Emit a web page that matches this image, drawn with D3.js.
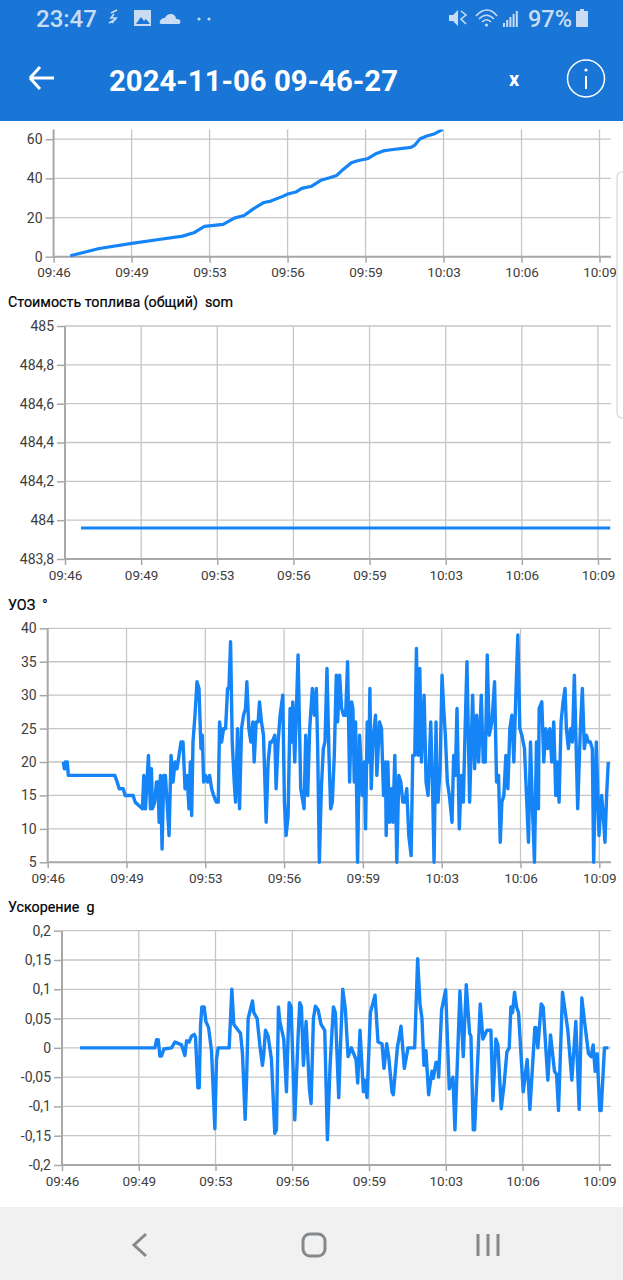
<!DOCTYPE html>
<html><head><meta charset="utf-8">
<script src="https://cdn.jsdelivr.net/npm/d3@7/dist/d3.min.js"></script>
<style>
html,body{margin:0;padding:0;background:#fff;width:623px;height:1280px;overflow:hidden}
svg{display:block}
text{font-family:Roboto,sans-serif}
</style></head><body><svg id="c" width="623" height="1280"></svg>
<script>
const tickLabels = ["09:46","09:49","09:53","09:56","09:59","10:03","10:06","10:09"];
const screenTitle = "2024-11-06 09-46-27";

const fuelTime = [42,115,197,265,325,355,380,427,455,480,502,530,547,577,590,610,625,650,673,695,713,730,750,765,790,810,830,850,900,910,923,940,960,980];
const fuelValue = [0.5,4.2,6.8,8.8,10.5,12.4,15.5,16.5,19.7,21,24.3,27.7,28.4,30.8,32,33,34.9,36,39,40.3,41.5,44.7,48,49,50,52.4,54,54.6,55.8,57,60.2,61.6,62.8,65];
const fuelTicks = [0,20,40,60];

const costTime = [21,716];
const costValue = [483.96,483.96];
const costTicks = [483.8,484,484.2,484.4,484.6,484.8,485];

const uozTime = [47,50,53,56,59,62,65,202,209,215,227,233,257,263,285,289,294,303,309,312,315,322,327,332,335,339,344,349,354,359,365,371,377,383,389,395,401,407,413,419,425,429,433,437,443,449,455,461,465,469,475,481,487,493,499,507,513,517,523,529,535,541,545,550,555,561,565,571,577,583,589,595,599,605,611,617,621,627,633,637,643,649,657,663,669,675,683,687,693,699,707,712,717,723,729,735,737,743,753,761,771,776,782,788,796,802,808,812,817,823,829,834,840,846,851,856,862,868,872,878,884,890,896,902,908,914,918,922,926,932,938,942,946,952,956,961,966,969,973,978,986,990,998,1004,1010,1016,1018,1023,1028,1034,1038,1044,1050,1056,1062,1068,1074,1080,1086,1093,1098,1104,1109,1114,1119,1124,1132,1138,1144,1152,1158,1162,1168,1171,1174,1180,1186,1191,1196,1202,1208,1216,1221,1226,1231,1238,1244,1250,1256,1261,1269,1278,1284,1290,1296,1304,1310,1316,1322,1328,1336,1344,1350,1356,1361,1366,1372,1378,1384,1390,1396,1402,1408,1414,1420,1426,1434,1440,1446,1452,1458,1464,1470,1476,1478,1486,1492,1498,1504,1510,1516,1522,1528,1532,1538,1544,1550,1556,1560,1566,1572,1578,1584,1594,1602,1608,1614,1620,1626,1632,1638,1642,1650,1658,1666,1671,1676,1681,1686];
const uozValue = [20,19,20,19,20,18,18,18,17,16,16,15,15,14,13,18,13,21,13,19,13,14,17,17,11,18,7,18,18,14,9,21,17,20,19,21,23,23,16,18,13,20,12,23,27,32,31,22,24,17,18,17,18,16,15,14,14,26,23,25,25,31,31,38,23,17,14,25,13,25,27,28,32,25,23,26,20,26,26,29,26,24,11,20,23,23,24,16,23,27,30,14,9,12,28,23,29,20,36,16,13,24,15,25,31,27,31,22,5,16,22,23,34,21,13,14,21,33,26,33,28,27,27,35,17,29,28,17,26,5,24,20,15,20,10,26,20,31,16,23,27,18,26,25,15,20,9,20,11,16,11,21,5,18,17,14,14,16,9,6,21,21,37,21,34,20,30,17,15,26,15,5,26,14,14,19,33,28,24,17,15,11,21,18,28,10,18,14,26,35,14,30,19,27,20,30,20,20,36,24,26,32,17,18,8,14,15,21,16,25,27,20,30,39,25,24,22,15,8,23,13,5,23,13,28,29,20,25,22,25,20,26,15,20,14,26,29,31,25,22,25,23,33,13,25,31,22,24,23,23,22,5,23,9,15,12,8,15,20];
const uozTicks = [5,10,15,20,25,30,35,40];

const accTime = [54,279,284,289,294,299,306,329,339,347,359,369,374,382,389,397,401,408,412,416,420,427,432,440,449,459,464,469,502,510,516,529,536,542,550,554,559,572,576,586,594,602,606,611,619,629,639,644,650,654,666,674,682,688,699,709,714,719,725,733,743,748,755,761,769,778,789,797,805,815,821,831,836,843,851,859,869,883,888,895,905,909,916,926,940,949,961,967,975,981,991,995,1007,1018,1028,1039,1059,1068,1075,1081,1087,1093,1101,1111,1115,1123,1128,1131,1140,1152,1163,1169,1174,1180,1195,1205,1214,1224,1228,1235,1239,1256,1264,1276,1288,1294,1303,1309,1319,1328,1336,1343,1348,1353,1359,1365,1371,1385,1397,1405,1411,1420,1423,1429,1439,1445,1459,1467,1479,1485,1491,1503,1519,1531,1543,1553,1561,1568,1581,1589,1595,1601,1607,1615,1619,1629,1641];
const accValue = [0,0,.014,.014,-.014,-.014,-.002,0,.01,.008,.005,-.013,.012,.01,.02,.023,.018,-.068,-.068,.038,.07,.07,.045,.035,-.005,-.138,-.02,0,0,.1,.04,.03,.025,-.01,-.122,-.06,.05,.08,.06,.05,.005,-.03,-.01,.03,.02,-.02,-.146,-.14,.07,.045,.015,-.075,.077,.07,-.123,.02,.077,.07,-.03,.045,-.07,-.095,.05,.071,.065,.04,.03,-.157,-.03,.07,.06,-.085,0,.1,.065,-.015,0,-.02,-.06,.03,-.075,-.055,-.085,.06,.09,.01,.007,-.035,.007,-.015,-.075,-.08,0,.037,-.035,0,0,.152,.075,.05,-.03,-.005,-.08,-.04,-.052,-.025,-.025,-.05,.065,.099,-.07,-.06,-.05,-.14,.097,-.015,.108,.025,.02,-.14,-.14,.075,.015,.03,.03,-.09,.015,.005,-.104,-.06,-.007,0,.07,.06,.095,.07,.06,-.075,-.02,-.105,-.05,.035,.035,0,.075,.07,-.055,.022,-.04,-.045,-.107,.095,.03,-.055,.045,-.105,.085,.05,-.01,-.015,.005,-.04,-.01,-.107,-.107,0,0];
const accTicks = [-.2,-.15,-.1,-.05,0,.05,.1,.15,.2];

const svg = d3.select("#c");
const LINE = "#1484f7", GRID = "#c6c6c6", AXIS = "#a8a8a8", LABEL = "#3d3d3d";
const comma = v => String(+v.toFixed(2)).replace(".", ",");

let clipId = 0;
function chart(o){
  const x = d3.scaleLinear().domain([0, o.unit * 7]).range([o.left, o.lastTick]);
  const y = d3.scaleLinear().domain(o.domain).range([o.bottom, o.top]);
  const xVals = tickLabels.map((_, i) => i * o.unit);
  const g = svg.append("g");

  g.append("g").selectAll("line").data(xVals.slice(1)).join("line")
    .attr("x1", d => x(d)).attr("x2", d => x(d)).attr("y1", o.top).attr("y2", o.bottom)
    .attr("stroke", GRID).attr("stroke-width", 1.3);
  g.append("g").selectAll("line").data(o.ticks).join("line")
    .attr("x1", o.left).attr("x2", 611).attr("y1", d => y(d)).attr("y2", d => y(d))
    .attr("stroke", GRID).attr("stroke-width", 1.3);

  const ax = g.append("g").attr("transform", `translate(0,${o.bottom})`)
    .call(d3.axisBottom(x).tickValues(xVals).tickSize(6).tickPadding(5).tickFormat((d, i) => tickLabels[i]));
  ax.select(".domain").attr("d", `M${o.left},0H611`).attr("stroke", AXIS).attr("stroke-width", 2);
  ax.selectAll("line").attr("stroke", AXIS).attr("stroke-width", 1.5);
  ax.selectAll("text").attr("fill", LABEL).attr("font-size", 13.5).attr("font-family", "Roboto");

  const ay = g.append("g").attr("transform", `translate(${o.left},0)`)
    .call(d3.axisLeft(y).tickValues(o.ticks).tickSize(8).tickPadding(3).tickFormat(comma));
  ay.select(".domain").attr("d", `M0,${o.top}V${o.bottom}`).attr("stroke", AXIS).attr("stroke-width", 2);
  ay.selectAll("line").attr("stroke", AXIS).attr("stroke-width", 1.5);
  ay.selectAll("text").attr("fill", LABEL).attr("font-size", 14).attr("font-family", "Roboto");

  const id = "clip" + (clipId++);
  svg.append("clipPath").attr("id", id).append("rect")
    .attr("x", o.left).attr("y", o.top).attr("width", 611 - o.left).attr("height", o.bottom - o.top + 2);
  const line = d3.line().x((d, i) => x(o.time[i])).y(d => y(d));
  g.append("path").attr("d", line(o.value)).attr("fill", "none").attr("stroke", LINE)
    .attr("stroke-width", o.width || 3.4).attr("stroke-linejoin", "round").attr("clip-path", `url(#${id})`);

  if (o.title) svg.append("text").attr("x", 8).attr("y", o.titleY).text(o.title)
    .attr("font-size", 14.3).attr("font-weight", 400).attr("fill", "#000").attr("stroke", "#000").attr("stroke-width", 0.2).style("white-space", "pre");
}

chart({time:fuelTime,value:fuelValue,ticks:fuelTicks,domain:[0,65],unit:196.4,left:53.6,lastTick:599.5,top:129.4,bottom:256.7,width:3.2});
chart({time:costTime,value:costValue,ticks:costTicks,domain:[483.8,485],unit:100,left:65,lastTick:598,top:326,bottom:559,title:"Стоимость топлива (общий)  som",titleY:307,width:3});
chart({time:uozTime,value:uozValue,ticks:uozTicks,domain:[5,40],unit:237,left:47.7,lastTick:599.3,top:628.3,bottom:862.3,title:"УОЗ  °",titleY:610});
chart({time:accTime,value:accValue,ticks:accTicks,domain:[-.2,.2],unit:230.5,left:62,lastTick:599.3,top:930.7,bottom:1165,title:"Ускорение  g",titleY:912});

// scrollbar handle on the right edge
svg.append("rect").attr("x",617).attr("y",172).attr("width",12).attr("height",246).attr("rx",5)
  .attr("fill","#fff").attr("stroke","#d8d8d8").attr("stroke-width",1.2);

// app bar
const bar = svg.append("g");
bar.append("rect").attr("width",623).attr("height",121).attr("fill","#1976d6");
bar.append("text").attr("x",36).attr("y",27).text("23:47").attr("font-size",24).attr("fill","#c8dcf3").attr("font-weight",500);
bar.append("text").attr("x",109).attr("y",91).text(screenTitle).attr("font-size",30).attr("font-weight",700).attr("fill","#fff").attr("textLength",289).attr("lengthAdjust","spacingAndGlyphs");
bar.append("text").attr("x",514).attr("y",86).text("x").attr("font-size",20).attr("font-weight",700).attr("fill","#fff").attr("text-anchor","middle");
bar.append("text").attr("x",528).attr("y",27).text("97%").attr("font-size",23.5).attr("font-weight",500).attr("fill","#c8dcf3");
bar.append("path").attr("d","M54,78H31M30,78L40,67M30,78L40,89").attr("fill","none").attr("stroke","#fff").attr("stroke-width",3);
bar.append("circle").attr("cx",586).attr("cy",78.5).attr("r",18.5).attr("fill","none").attr("stroke","#fff").attr("stroke-width",1.5);
bar.append("rect").attr("x",585).attr("y",76).attr("width",2).attr("height",13).attr("fill","#fff");
bar.append("circle").attr("cx",586).attr("cy",70).attr("r",1.6).attr("fill","#fff");
const st = "#c8dcf3";
bar.append("path").attr("d","M111,13L117,10M109,23L116,19M114,14L111,18H116L112,23").attr("fill","none").attr("stroke",st).attr("stroke-width",1.6);
bar.append("rect").attr("x",134).attr("y",10).attr("width",17).attr("height",16).attr("fill",st);
bar.append("path").attr("d","M136,24L141,17L144,21L146,19L150,24Z").attr("fill","#1976d6");
bar.append("path").attr("d","M162,24C157,24 161,17 165,18C167,12 176,13 176,19C181,18 182,24 178,24Z").attr("fill",st);
bar.append("circle").attr("cx",199).attr("cy",19).attr("r",1.6).attr("fill",st);
bar.append("circle").attr("cx",209).attr("cy",19).attr("r",1.6).attr("fill",st);
bar.append("path").attr("d","M449,15H453L458,10V26L453,21H449Z").attr("fill",st);
bar.append("path").attr("d","M461,11L466,15L461,19L466,24").attr("fill","none").attr("stroke",st).attr("stroke-width",1.6);
bar.append("path").attr("d","M476,16C483,8 491,8 497,16M479,19C484,14 489,14 494,19M482,22C485,19 488,19 491,22").attr("fill","none").attr("stroke",st).attr("stroke-width",1.6);
bar.append("circle").attr("cx",486.5).attr("cy",25).attr("r",1.6).attr("fill",st);
bar.selectAll(".sig").data([4,7,10,13,16]).join("rect").attr("x",(d,i)=>503+i*3.2).attr("y",d=>27-d).attr("width",2).attr("height",d=>d).attr("fill",st);
bar.append("rect").attr("x",576).attr("y",11).attr("width",12).attr("height",16).attr("fill",st);
bar.append("rect").attr("x",580).attr("y",9).attr("width",4).attr("height",2).attr("fill",st);

// navigation bar
const nav = svg.append("g");
nav.append("rect").attr("y",1207).attr("width",623).attr("height",73).attr("fill","#f1f1f1");
const ic = "#85898d";
nav.append("path").attr("d","M146,1234L134,1245L146,1256").attr("fill","none").attr("stroke",ic).attr("stroke-width",3);
nav.append("rect").attr("x",303).attr("y",1234).attr("width",22).attr("height",22).attr("rx",7).attr("fill","none").attr("stroke",ic).attr("stroke-width",3);
nav.selectAll(".b").data([478,488,498]).join("rect").attr("x",d=>d-1.5).attr("y",1234).attr("width",3).attr("height",22).attr("fill",ic);
</script></body></html>
